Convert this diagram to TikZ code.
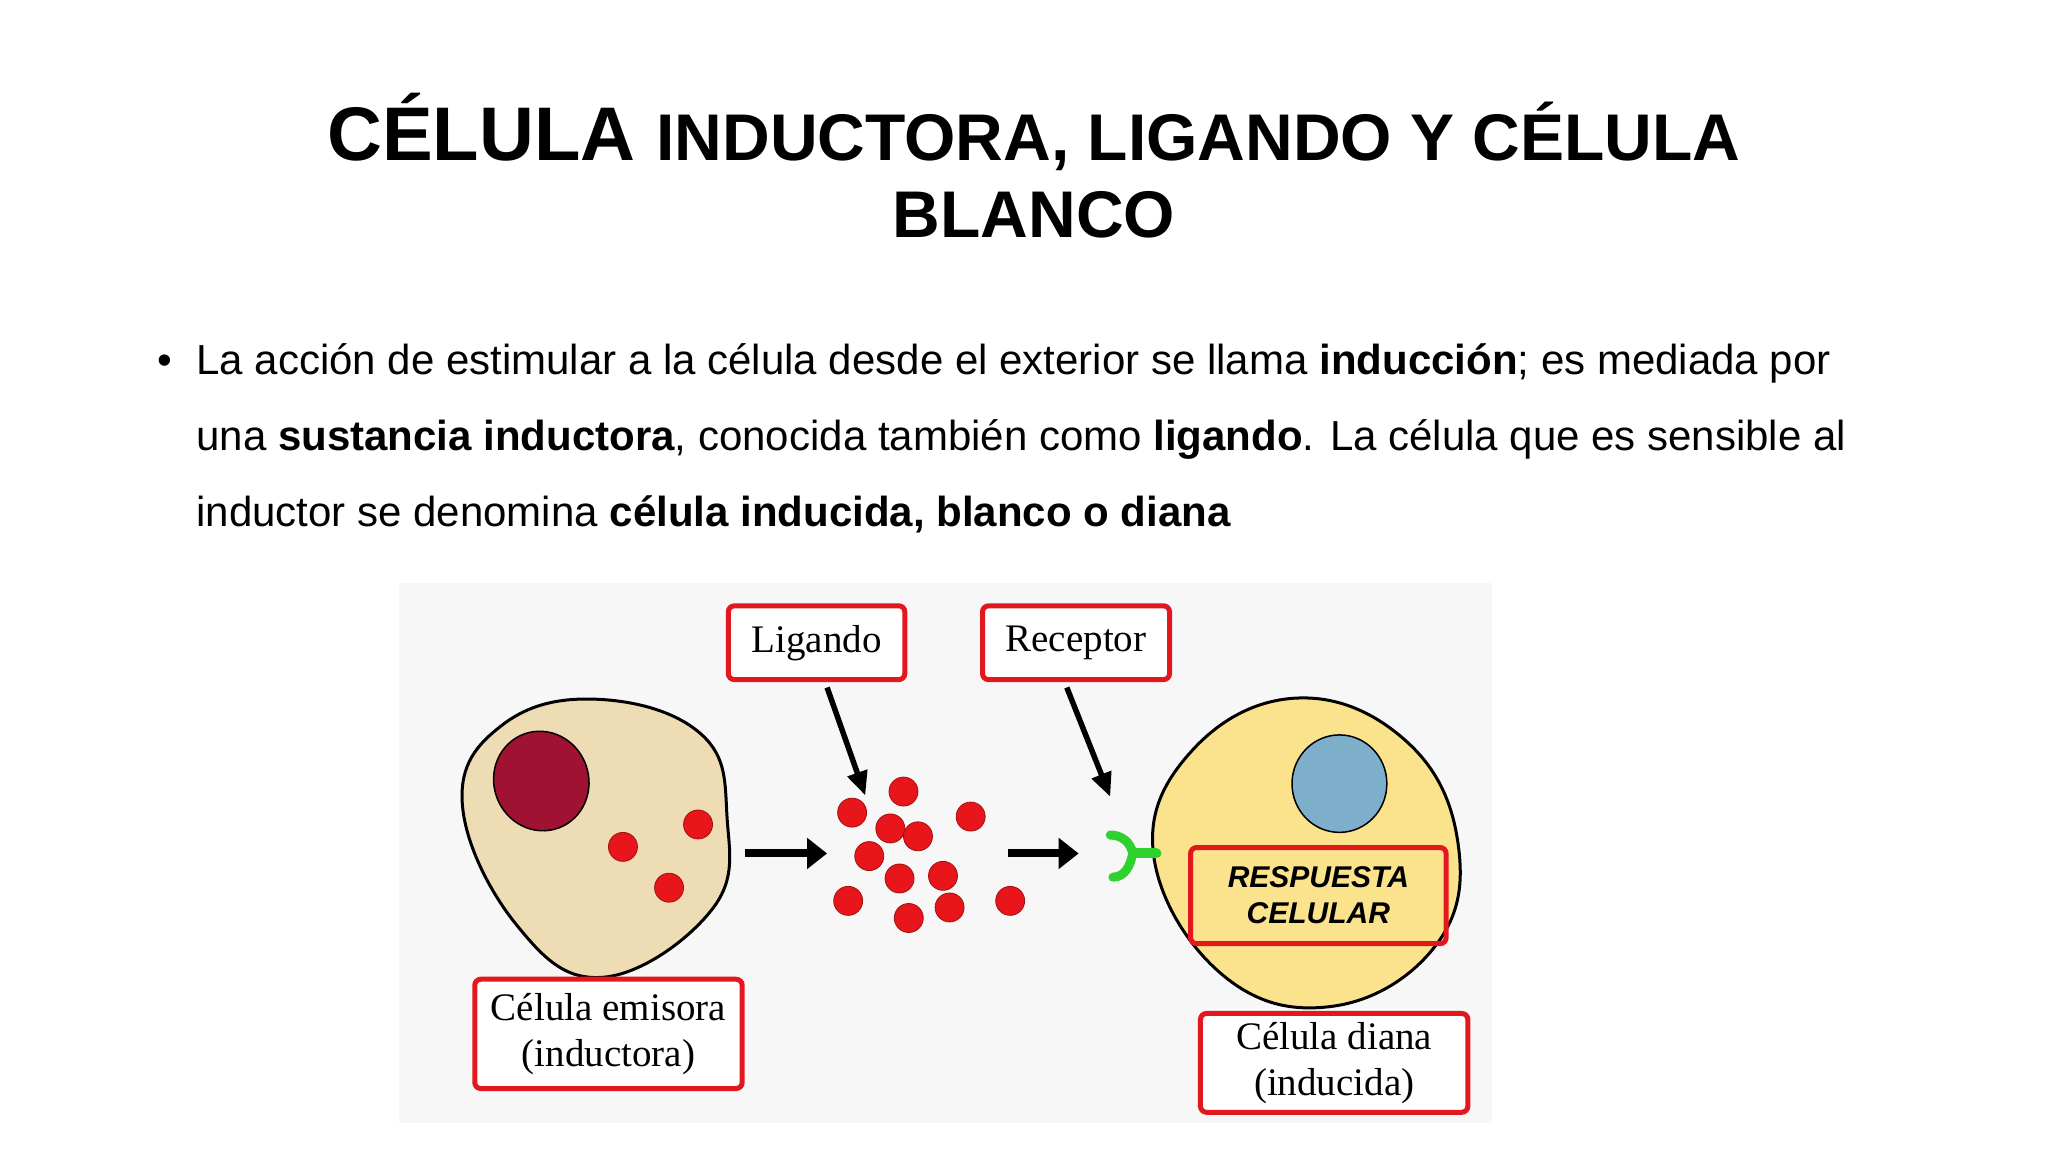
\documentclass[tikz,border=0pt]{standalone}
\usepackage{fontspec}
\setmainfont{Liberation Sans}
\newfontfamily\lserif{Liberation Serif}
\usetikzlibrary{arrows.meta}
\definecolor{dotred}{HTML}{E8161B}
\definecolor{nucred}{HTML}{A01231}
\definecolor{cellbeige}{HTML}{EEDCB5}
\definecolor{cellyel}{HTML}{FBE38E}
\definecolor{nucblue}{HTML}{7DAFCB}
\definecolor{boxred}{HTML}{E3181E}
\definecolor{recgreen}{HTML}{2ED12E}
\tikzset{
  lbl/.style={draw=boxred, line width=5pt, rounded corners=6pt, fill=white, font=\lserif\fontsize{39}{46}\selectfont, align=center, inner sep=0pt},
  dot/.style={fill=dotred, draw=dotred!70!black, line width=0.8pt},
  bigarrow/.style={line width=8pt, -{Triangle[length=20pt,width=30pt]}},
  ptr/.style={line width=5.5pt, -{Triangle[length=24pt,width=20pt]}},
}
\begin{document}
\begin{tikzpicture}[x=1.317pt,y=-1.317pt]
\useasboundingbox (0,0) rectangle (1555,874.7);
\fill[white] (0,0) rectangle (1555,874.7);
% title
\node[anchor=base,font=\bfseries] (t1) at (785,122) {\fontsize{76}{84}\selectfont CÉLULA \fontsize{66}{74}\selectfont INDUCTORA, LIGANDO Y CÉLULA};
\node[anchor=base,font=\bfseries\fontsize{66}{74}\selectfont] (t2) at (785,180) {BLANCO};
% bullet
\node[anchor=base,font=\fontsize{42}{48}\selectfont] (bu) at (125,284) {•};
\node[anchor=base west,inner sep=0pt,font=\fontsize{42}{48}\selectfont] (l1) at (149,284) {La acción de estimular a la célula desde el exterior se llama \textbf{inducción}; es mediada por};
\node[anchor=base west,inner sep=0pt,font=\fontsize{42}{48}\selectfont] (l2) at (149,342) {una \textbf{sustancia inductora}, conocida también como \textbf{ligando}. La célula que es sensible al};
\node[anchor=base west,inner sep=0pt,font=\fontsize{42}{48}\selectfont] (l3) at (149,400) {inductor se denomina \textbf{célula inducida, blanco o diana}};
% diagram background
\fill[black!3] (303,443) rectangle (1133,853);
% left cell
\draw[fill=cellbeige, line width=3pt] plot[smooth cycle, tension=0.7] coordinates {(455,531) (533,558) (552,620) (541,690) (458,742) (392,702) (351,610) (382,550)};
\draw[fill=nucred, line width=1.5pt, rotate around={20:(411,593)}] (411,593) ellipse (36 and 38);
\foreach \p in {(473,643),(530,626),(508,674)} \draw[dot] \p circle (11);
% ligand dots
\foreach \p in {(647,617),(686,601),(737,620),(676,629),(697,635),(660,650),(683,667),(716,665),(644,684),(690,697),(721,689),(767,684)} \draw[dot] \p circle (11);
% right cell
\draw[fill=cellyel, line width=3pt] plot[smooth cycle, tension=0.7] coordinates {(985,530) (1068,563) (1107,640) (1090,718) (1012,764) (928,740) (876,650) (905,570)};
\draw[fill=nucblue, line width=1.5pt] (1017,595) ellipse (36 and 37);
% receptor
\draw[recgreen, line width=10pt, line cap=round, line join=round] (878,648) -- (862,648);
\draw[recgreen, line width=9pt, line cap=round] (843,634) to[out=0,in=100] (860,648) to[out=-100,in=0] (845,666);
% arrows
\coordinate (a1s) at (566,648); \coordinate (a1e) at (628,648);
\coordinate (a2s) at (765,648); \coordinate (a2e) at (819,648);
\draw[bigarrow] (a1s) -- (a1e);
\draw[bigarrow] (a2s) -- (a2e);
% labels
\node[lbl, minimum width=134*1.317pt, minimum height=56*1.317pt] (lig) at (620,488) {Ligando};
\node[lbl, minimum width=142*1.317pt, minimum height=56*1.317pt] (rec) at (817,488) {Receptor};
\coordinate (ligT) at (657,604); \coordinate (recT) at (843,605);
\draw[ptr] (628,522) -- (ligT);
\draw[ptr] (810,522) -- (recT);
\node[draw=boxred, line width=5pt, rounded corners=6pt, minimum width=194*1.317pt, minimum height=73*1.317pt, align=center, font=\bfseries\itshape\fontsize{30}{36}\selectfont] (resp) at (1001,680) {RESPUESTA\\CELULAR};
\node[lbl, minimum width=203*1.317pt, minimum height=83*1.317pt] (emi) at (462,785) {Célula emisora\\(inductora)};
\node[lbl, minimum width=203*1.317pt, minimum height=75*1.317pt] (dia) at (1013,807) {Célula diana\\(inducida)};
\end{tikzpicture}
\end{document}
